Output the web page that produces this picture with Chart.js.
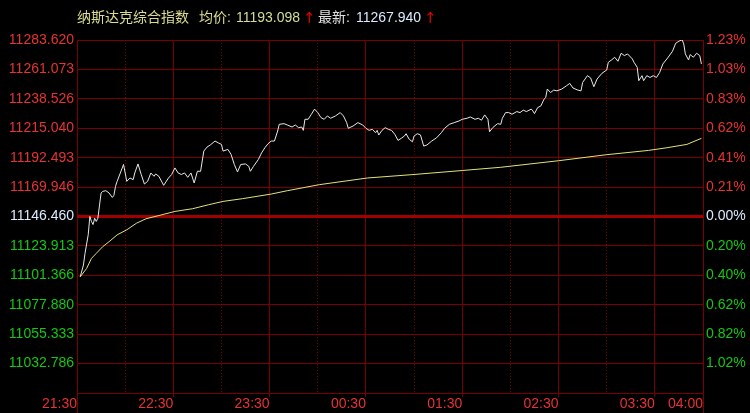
<!DOCTYPE html>
<html>
<head>
<meta charset="utf-8">
<script src="https://cdn.jsdelivr.net/npm/chart.js@4.4.1/dist/chart.umd.min.js"></script>
<style>
  html, body { margin: 0; padding: 0; background: #000; }
  canvas { display: block; }
</style>
</head>
<body>
<canvas id="chart" width="750" height="413"></canvas>
<script>
// previous close sits on the thick middle line
const prevClose = 11146.46;
const yStep = 22.86;

// tick labels, top row first (bottom row has none)
const leftLabels = ["11283.620", "11261.073", "11238.526", "11215.040", "11192.493", "11169.946",
  "11146.460", "11123.913", "11101.366", "11077.880", "11055.333", "11032.786", ""];
const rightLabels = ["1.23%", "1.03%", "0.83%", "0.62%", "0.41%", "0.21%",
  "0.00%", "0.20%", "0.40%", "0.62%", "0.82%", "1.02%", ""];
// one entry per half hour, 21:30 .. 04:00
const xLabels = ["21:30", "", "22:30", "", "23:30", "", "00:30", "", "01:30", "", "02:30", "", "03:30", "04:00"];

// header pieces: text, colour, offset from the plot's left edge
const titleParts = [
  ["纳斯达克综合指数", "#dcdc90", 0],
  ["均价:", "#dcdc90", 122],
  ["11193.098", "#d4dc96", 159],
  ["↑", "#e00000", 226],
  ["最新:", "#e0e0e0", 241],
  ["11267.940", "#d8eaff", 279],
  ["↑", "#e00000", 347],
];

// minutes after 21:30
const priceTimes = [2, 4, 5, 7, 8, 9, 10, 11, 12, 13, 15, 16, 18, 20, 22, 23, 24, 25, 27, 29,
  31, 33, 35, 36, 38, 40, 42, 44, 46, 48, 49, 51, 54, 57, 59, 61, 63, 65, 67, 69,
  71, 73, 75, 77, 79, 81, 83, 86, 88, 90, 91, 94, 96, 98, 100, 102, 105, 107, 108, 110,
  113, 115, 117, 119, 121, 123, 125, 126, 129, 131, 134, 136, 138, 140, 141, 142, 144, 146, 148, 150,
  152, 154, 156, 158, 161, 164, 166, 168, 169, 172, 175, 178, 180, 182, 184, 186, 187, 188, 190, 192,
  194, 196, 198, 200, 202, 204, 205, 207, 209, 210, 212, 214, 216, 218, 221, 224, 227, 229, 232, 235,
  238, 240, 243, 245, 248, 250, 252, 254, 256, 257, 259, 262, 264, 265, 267, 269, 271, 274, 276, 278,
  280, 283, 284, 285, 287, 289, 291, 292, 293, 295, 297, 299, 302, 305, 307, 309, 312, 314, 315, 318,
  320, 322, 324, 327, 330, 331, 333, 335, 337, 339, 341, 343, 346, 347, 349, 350, 352, 353, 355, 357,
  359, 361, 363, 365, 368, 371, 373, 375, 377, 378, 379, 381, 382, 384, 386, 388, 389];
const prices = [11099.6, 11108.7, 11117.8, 11132.4, 11146.5, 11142.6, 11140.2, 11145.1, 11142.6, 11145.1,
  11164.7, 11166.0, 11166.5, 11164.7, 11161.3, 11162.9, 11169.9, 11173.8, 11180.3, 11186.9,
  11173.8, 11176.4, 11175.1, 11180.3, 11187.3, 11179.1, 11171.7, 11173.8, 11180.3, 11177.7,
  11179.5, 11177.7, 11170.7, 11176.4, 11179.1, 11184.2, 11180.3, 11179.1, 11180.3, 11176.9,
  11180.3, 11172.5, 11181.6, 11181.6, 11197.3, 11200.4, 11202.0, 11205.1, 11203.7, 11202.5,
  11197.3, 11198.6, 11194.7, 11186.9, 11181.1, 11186.9, 11187.3, 11185.5, 11181.6, 11185.5,
  11190.8, 11195.9, 11199.8, 11203.0, 11205.1, 11205.1, 11212.9, 11218.1, 11218.6, 11217.6,
  11216.0, 11217.6, 11215.5, 11216.0, 11213.4, 11222.0, 11222.0, 11225.9, 11229.9, 11227.2,
  11223.3, 11222.0, 11224.6, 11222.8, 11224.6, 11227.2, 11224.6, 11219.4, 11215.0, 11216.8,
  11219.4, 11217.6, 11215.0, 11213.4, 11214.2, 11211.6, 11213.4, 11209.8, 11213.4, 11215.5,
  11214.2, 11213.4, 11210.3, 11205.6, 11207.2, 11209.0, 11210.8, 11206.4, 11204.5, 11209.0,
  11210.8, 11209.8, 11201.2, 11202.0, 11205.1, 11207.6, 11211.6, 11215.0, 11218.1, 11219.4,
  11220.7, 11222.0, 11222.8, 11223.8, 11222.0, 11222.8, 11221.3, 11225.4, 11222.0, 11212.3,
  11215.5, 11218.6, 11218.1, 11222.8, 11227.2, 11227.2, 11225.9, 11228.0, 11227.2, 11229.1,
  11228.0, 11229.9, 11228.5, 11226.4, 11231.1, 11232.4, 11237.7, 11238.9, 11245.5, 11242.8,
  11244.7, 11244.1, 11245.5, 11248.1, 11249.9, 11246.3, 11244.7, 11244.1, 11250.6, 11255.9,
  11254.1, 11247.3, 11253.3, 11257.7, 11260.3, 11266.3, 11268.1, 11270.2, 11267.1, 11273.3,
  11271.5, 11272.8, 11268.9, 11266.3, 11262.4, 11252.0, 11255.9, 11252.0, 11255.9, 11254.5,
  11255.9, 11254.5, 11258.4, 11265.0, 11269.7, 11274.9, 11281.1, 11282.7, 11283.8, 11280.6,
  11272.8, 11268.1, 11272.3, 11270.2, 11273.3, 11271.5, 11265.0];

const avgTimes = [2, 6, 9, 12, 16, 20, 25, 31, 37, 43, 51, 61, 72, 82, 91, 103, 121, 131, 151, 181,
  210, 240, 264, 300, 330, 356, 367, 380, 389];
const avgPrices = [11099.6, 11106.1, 11113.9, 11117.8, 11123.0, 11126.9, 11132.2, 11136.1, 11141.2, 11144.7,
  11147.2, 11150.4, 11152.5, 11155.6, 11158.2, 11160.3, 11163.9, 11166.5, 11171.2, 11176.4,
  11179.1, 11182.2, 11184.7, 11189.8, 11194.5, 11197.8, 11199.8, 11202.5, 11207.2];

const RED = "#e83232";
const GREEN = "#12c812";
const ZERO_TXT = "#dceaff";
const GRID = "#780000";
const ZERO_LINE = "#a00000";
const FONT = "\"Liberation Sans\", \"Noto Sans CJK SC\", sans-serif";

const nRows = leftLabels.length - 1;
const midRow = 6;
// ascending tick values for the price axes
const yTickValues = leftLabels.map((_, i) => prevClose + (midRow - i) * yStep).reverse();

function rowColor(ctx) {
  const row = nRows - ctx.index;
  if (row === midRow) return ZERO_TXT;
  return row < midRow ? RED : GREEN;
}

function priceAxis(position, labels, width) {
  return {
    position,
    min: yTickValues[0],
    max: yTickValues[nRows],
    afterBuildTicks: (s) => { s.ticks = yTickValues.map((v) => ({ value: v })); },
    afterFit: (s) => { s.width = width; },
    ticks: {
      autoSkip: false,
      padding: 3,
      color: rowColor,
      font: { family: FONT, size: 14 },
      callback: (v, i) => labels[nRows - i],
    },
    grid: {
      drawOnChartArea: position === "left",
      drawTicks: false,
      color: (ctx) => (ctx.index === midRow ? ZERO_LINE : GRID),
      lineWidth: (ctx) => (ctx.index === midRow ? 3 : 1),
    },
    border: { display: position === "right", color: GRID, width: 1 },
  };
}

// closes the frame (bottom edge, legs below the axis) and writes the coloured header
const frameTitle = {
  id: "frameTitle",
  afterDraw(chart) {
    const { ctx, chartArea, scales } = chart;
    const align = (p) => Math.round(p - 0.5) + 0.5;
    ctx.save();
    ctx.strokeStyle = GRID;
    ctx.lineWidth = 1;
    const left = align(scales.x.getPixelForValue(scales.x.min));
    const right = align(scales.x.getPixelForValue(scales.x.max));
    const bottom = align(scales.y.getPixelForValue(scales.y.min));
    ctx.beginPath();
    ctx.moveTo(left, chart.height);
    ctx.lineTo(left, bottom);
    ctx.lineTo(right, bottom);
    ctx.lineTo(right, chart.height);
    ctx.stroke();
    ctx.textBaseline = "alphabetic";
    titleParts.forEach(([text, color, dx]) => {
      const arrow = text === "↑";
      ctx.font = arrow ? "15px \"DejaVu Sans\", sans-serif" : "14px " + FONT;
      ctx.fillStyle = color;
      ctx.fillText(text, chartArea.left + dx, arrow ? 23 : 22);
    });
    ctx.restore();
  },
};

new Chart(document.getElementById("chart"), {
  type: "line",
  data: {
    datasets: [
      {
        data: avgTimes.map((t, i) => ({ x: t, y: avgPrices[i] })),
        borderColor: "#e2e27a",
        borderWidth: 1,
        pointRadius: 0,
        tension: 0,
        yAxisID: "y",
      },
      {
        data: priceTimes.map((t, i) => ({ x: t, y: prices[i] })),
        borderColor: "#e8e8e8",
        borderWidth: 1,
        pointRadius: 0,
        tension: 0,
        yAxisID: "y",
      },
    ],
  },
  options: {
    responsive: false,
    animation: false,
    layout: { padding: { top: 40 } },
    plugins: {
      legend: { display: false },
      tooltip: { enabled: false },
    },
    scales: {
      x: {
        type: "linear",
        min: 0,
        max: (xLabels.length - 1) * 30,
        afterBuildTicks: (s) => { s.ticks = xLabels.map((_, i) => ({ value: i * 30 })); },
        afterFit: (s) => { s.height = 20; },
        ticks: {
          autoSkip: false,
          maxRotation: 0,
          align: "end",
          padding: 0,
          color: RED,
          font: { family: FONT, size: 14, lineHeight: 1 },
          callback: (v, i) => xLabels[i],
        },
        grid: {
          color: GRID,
          lineWidth: 1,
          tickLength: 4,
          tickColor: (ctx) => (xLabels[ctx.index] ? GRID : "rgba(0,0,0,0)"),
        },
        border: {
          display: true,
          color: GRID,
          width: 1,
          dash: (ctx) => (ctx.index % 2 === 1 && ctx.index < xLabels.length - 1 ? [1, 2] : []),
        },
      },
      y: priceAxis("left", leftLabels, 77),
      y1: priceAxis("right", rightLabels, 47),
    },
  },
  plugins: [frameTitle],
});
</script>
</body>
</html>
